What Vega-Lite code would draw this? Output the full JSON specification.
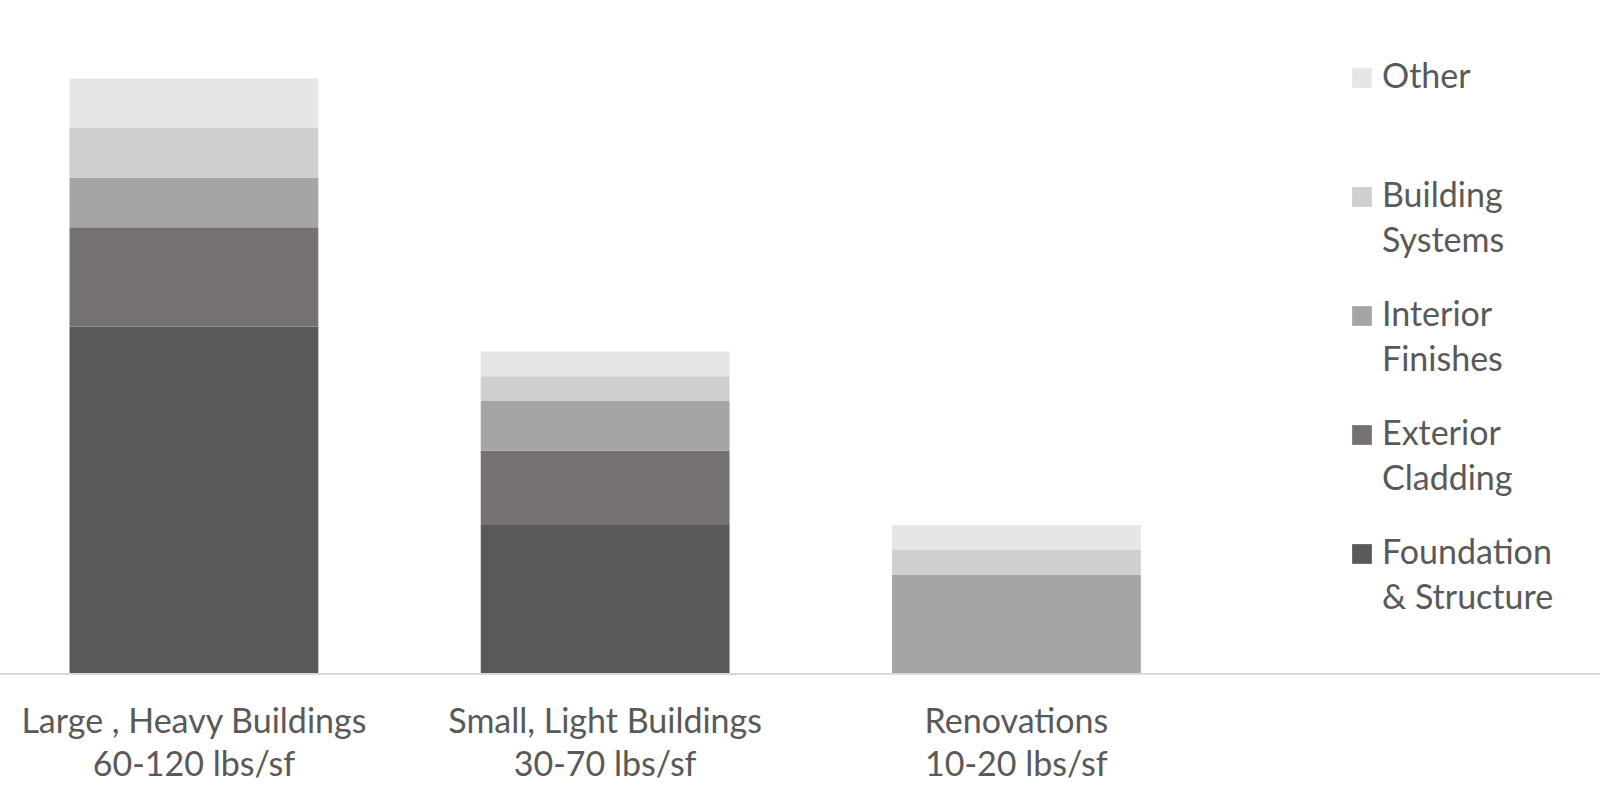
{
  "$schema": "https://vega.github.io/schema/vega-lite/v6.json",
  "autosize": {"type": "none"},
  "padding": {"left": 0, "top": 0, "right": 0, "bottom": 137},
  "width": 1600,
  "height": 674,
  "background": "white",
  "config": {
    "view": {"stroke": null},
    "font": "Lato",
    "style": {"guide-label": {"lineHeight": 45}}
  },
  "data": {
    "values": [
      {"cat": "Large , Heavy Buildings\n60-120 lbs/sf", "series": "Foundation & Structure", "ord": 1, "v": 14},
      {"cat": "Large , Heavy Buildings\n60-120 lbs/sf", "series": "Exterior Cladding", "ord": 2, "v": 4},
      {"cat": "Large , Heavy Buildings\n60-120 lbs/sf", "series": "Interior Finishes", "ord": 3, "v": 2},
      {"cat": "Large , Heavy Buildings\n60-120 lbs/sf", "series": "Building Systems", "ord": 4, "v": 2},
      {"cat": "Large , Heavy Buildings\n60-120 lbs/sf", "series": "Other", "ord": 5, "v": 2},
      {"cat": "Small, Light Buildings\n30-70 lbs/sf", "series": "Foundation & Structure", "ord": 1, "v": 6},
      {"cat": "Small, Light Buildings\n30-70 lbs/sf", "series": "Exterior Cladding", "ord": 2, "v": 3},
      {"cat": "Small, Light Buildings\n30-70 lbs/sf", "series": "Interior Finishes", "ord": 3, "v": 2},
      {"cat": "Small, Light Buildings\n30-70 lbs/sf", "series": "Building Systems", "ord": 4, "v": 1},
      {"cat": "Small, Light Buildings\n30-70 lbs/sf", "series": "Other", "ord": 5, "v": 1},
      {"cat": "Renovations\n10-20 lbs/sf", "series": "Interior Finishes", "ord": 3, "v": 4},
      {"cat": "Renovations\n10-20 lbs/sf", "series": "Building Systems", "ord": 4, "v": 1},
      {"cat": "Renovations\n10-20 lbs/sf", "series": "Other", "ord": 5, "v": 1}
    ]
  },
  "layer": [
    {
      "mark": {"type": "bar"},
      "encoding": {
        "x": {
          "field": "cat",
          "type": "nominal",
          "sort": null,
          "scale": {"range": [-11.7, 1222], "paddingInner": 0.395, "paddingOuter": 0.1975},
          "axis": {
            "title": null,
            "domain": false,
            "ticks": false,
            "labelAngle": 0,
            "labelExpr": "split(datum.label, '\\n')",
            "labelFont": "Lato",
            "labelFontSize": 34,
            "labelColor": "#595959",
            "labelPadding": 31,
            "labelLineHeight": 43,
            "labelBaseline": "top",
            "labelLimit": 0
          }
        },
        "y": {
          "field": "v",
          "type": "quantitative",
          "stack": "zero",
          "scale": {"domain": [0, 27.16], "nice": false, "zero": true},
          "axis": null
        },
        "order": {"field": "ord", "type": "quantitative"},
        "color": {
          "field": "series",
          "type": "nominal",
          "scale": {
            "domain": ["Other", "Building Systems", "Interior Finishes", "Exterior Cladding", "Foundation & Structure"],
            "range": ["#E7E6E6", "#D0CECE", "#A5A5A5", "#767171", "#595959"]
          },
          "legend": {
            "title": null,
            "orient": "none",
            "legendX": 1345,
            "legendY": 61,
            "padding": 0,
            "symbolType": "square",
            "symbolSize": 390,
            "symbolStrokeWidth": 0,
            "labelFont": "Lato",
            "labelFontSize": 34,
            "labelColor": "#595959",
            "labelOffset": 3,
            "labelLimit": 0,
            "labelBaseline": "middle",
            "rowPadding": 40,
            "labelExpr": "datum.label == 'Other' ? ['Other', ''] : datum.label == 'Foundation & Structure' ? ['Foundation', '& Structure'] : split(datum.label, ' ')"
          }
        }
      }
    },
    {
      "mark": {"type": "rule", "color": "#D9D9D9", "strokeWidth": 2},
      "encoding": {"y": {"datum": 0}}
    }
  ]
}
